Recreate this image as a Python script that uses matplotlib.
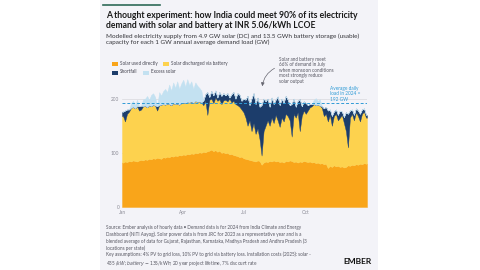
#!/usr/bin/env python3

import matplotlib
matplotlib.use("Agg")
import matplotlib.pyplot as plt
from matplotlib.patches import Rectangle, FancyArrowPatch
import numpy as np

# 3-day bins through 2024 (122 bins = 366 days)
BIN_DAYS = 3

# Level: solar used directly
DIRECT = [
    82, 84, 83, 85, 84, 86, 85, 84, 86, 87, 86,
    88, 87, 89, 88, 90, 89, 91, 90, 89, 92,
    91, 93, 92, 94, 93, 95, 94, 96, 95, 97,
    96, 98, 97, 99, 98, 100, 99, 101, 100, 102,
    101, 103, 104, 106, 103, 105, 102, 104, 100, 101,
    99, 100, 97, 98, 96, 95, 94, 92, 93, 90,
    89, 88, 87, 86, 85, 84, 86, 85, 78, 82, 84,
    83, 85, 84, 86, 84, 85, 83, 84, 82, 85,
    84, 86, 85, 83, 84, 82, 84, 83, 85, 84,
    83, 84, 82, 83, 81, 82, 80, 81, 79, 80,
    72, 76, 74, 77, 75, 76, 74, 75, 73, 74,
    77, 76, 78, 77, 79, 78, 80, 79, 81, 80,
]

# Level: top of solar supply (direct + via battery)
SUPPLIED = [
    168, 158, 172, 176, 183, 185, 182, 186, 178, 180, 186,
    187, 184, 188, 186, 189, 187, 178, 188, 189, 190,
    189, 191, 190, 188, 192, 190, 191, 189, 192, 193,
    192, 194, 193, 195, 192, 196, 194, 195, 193, 188,
    196, 170, 198, 200, 192, 202, 196, 199, 190, 197,
    198, 195, 200, 193, 196, 190, 188, 185, 180, 175,
    165, 150, 160, 140, 155, 135, 145, 125, 95, 140, 150,
    160, 150, 165, 155, 170, 160, 148, 165, 158, 172,
    168, 160, 130, 172, 165, 175, 140, 168, 178, 172,
    178, 184, 186, 190, 188, 189, 187, 183, 168, 172,
    158, 170, 150, 168, 172, 160, 165, 170, 155, 140,
    110, 165, 172, 160, 175, 168, 158, 172, 176, 165,
]

# Daily demand level
DEMAND = [
    176, 178, 180, 180, 183, 185, 182, 186, 186, 187, 186,
    187, 184, 188, 186, 189, 187, 186, 188, 189, 190,
    189, 191, 190, 188, 192, 190, 191, 189, 192, 193,
    192, 194, 193, 195, 192, 196, 194, 195, 193, 196,
    208, 212, 203, 214, 206, 215, 202, 212, 205, 210,
    206, 210, 202, 208, 212, 200, 210, 207, 196, 200,
    198, 205, 188, 200, 210, 190, 202, 185, 188, 200, 195,
    200, 185, 202, 190, 198, 204, 188, 200, 192, 205,
    198, 188, 190, 200, 185, 196, 199, 186, 195, 192,
    188, 190, 190, 190, 188, 189, 187, 186, 182, 185,
    178, 180, 168, 176, 180, 170, 178, 176, 166, 175,
    172, 178, 180, 170, 182, 178, 172, 180, 182, 170,
]

# Excess solar above demand
EXCESS = [
    0, 0, 0, 0, 9, 11, 6, 12, 0, 0, 13,
    13, 21, 10, 21, 21, 16, 0, 24, 17, 24,
    29, 21, 36, 27, 38, 30, 41, 29, 36, 42,
    30, 42, 32, 37, 26, 34, 30, 25, 22, 0,
    0, 0, 0, 0, 0, 0, 0, 0, 0, 0,
    0, 0, 0, 0, 0, 0, 0, 0, 0, 0,
    0, 0, 0, 0, 0, 0, 0, 0, 0, 0, 0,
    0, 0, 0, 0, 0, 0, 0, 0, 0, 0,
    0, 0, 0, 0, 0, 0, 0, 0, 0, 0,
    0, 0, 0, 8, 13, 7, 12, 0, 0, 0,
    0, 0, 0, 0, 0, 0, 0, 0, 0, 0,
    0, 0, 0, 0, 0, 0, 0, 0, 0, 0,
]

AVG_LOAD = 192
MONTH_TICKS = [0, 91, 182, 274]
MONTH_LABELS = ["Jan", "Apr", "Jul", "Oct"]
Y_TICKS = [0, 100, 200]

C_DIRECT = "#f9a51a"
C_BATTERY = "#fdd24e"
C_SHORT = "#1c3d6b"
C_EXCESS = "#c3e1f1"
C_BLUE = "#2f9bd6"
CARD = "#f3f3f8"
FONT = "Lato"


def main():
    direct = np.array(DIRECT, dtype=float)
    battery = np.array(SUPPLIED) - direct
    shortfall = np.array(DEMAND) - np.array(SUPPLIED)
    excess = np.array(EXCESS, dtype=float)
    # bin centres, with the year's two ends added so the areas fill the axis
    x = np.arange(len(DIRECT)) * BIN_DAYS + BIN_DAYS / 2
    x = np.concatenate([[0], x, [366]])
    series = [np.concatenate([[s[0]], s, [s[-1]]]) for s in (direct, battery, shortfall, excess)]

    plt.rcParams["font.family"] = [FONT, "DejaVu Sans"]
    fig = plt.figure(figsize=(4.8, 2.7), dpi=100, facecolor="white")
    fig.patches.append(Rectangle((100 / 480, 0), 278 / 480, 1, transform=fig.transFigure,
                                 facecolor=CARD, edgecolor="none", zorder=-10))
    fig.add_artist(plt.Line2D([103 / 480, 160 / 480], [1 - 5 / 270, 1 - 5 / 270],
                              color="#2d6a58", linewidth=1.2))

    ax = fig.add_axes([122 / 480, 1 - 207 / 270, 245 / 480, 130 / 270])
    ax.set_facecolor(CARD)
    ax.stackplot(x, *series, colors=[C_DIRECT, C_BATTERY, C_SHORT, C_EXCESS],
                 linewidth=0.3, edgecolor="face")

    ax.axhline(AVG_LOAD, color=C_BLUE, linestyle=(0, (3, 2)), linewidth=0.7)
    ax.set_xlim(0, 366)
    ax.set_ylim(0, 240)
    ax.set_yticks(Y_TICKS)
    ax.set_xticks(MONTH_TICKS)
    ax.set_xticklabels(MONTH_LABELS)
    ax.tick_params(labelsize=3.4, colors="#8a8a95", length=0, pad=2)
    ax.grid(axis="y", color="#d8d8de", linewidth=0.5)
    ax.set_axisbelow(True)
    for s in ax.spines.values():
        s.set_visible(False)

    # annotations
    fig.text(330 / 480, 1 - 86 / 270, "Average daily\nload in 2024 =\n192 GW",
             color=C_BLUE, fontsize=3.4, va="top", linespacing=1.1)
    fig.text(279 / 480, 1 - 57 / 270,
             "Solar and battery meet\n66% of demand in July\nwhen monsoon conditions\n"
             "most strongly reduce\nsolar output",
             color="#555560", fontsize=3.3, va="top", linespacing=1.1)
    arrow = FancyArrowPatch((277 / 480, 1 - 67 / 270), (262 / 480, 1 - 89 / 270),
                            transform=fig.transFigure, connectionstyle="arc3,rad=0.3",
                            arrowstyle="-|>,head_length=2,head_width=1",
                            color="#666670", linewidth=0.5)
    fig.add_artist(arrow)

    # titles
    fig.text(106 / 480, 1 - 11 / 270,
             "A thought experiment: how India could meet 90% of its electricity\n"
             "demand with solar and battery at INR 5.06/kWh LCOE",
             fontsize=6.2, fontweight="bold", color="#1a1a1a", va="top", linespacing=1.15)
    fig.text(106 / 480, 1 - 33 / 270,
             "Modelled electricity supply from 4.9 GW solar (DC) and 13.5 GWh battery storage (usable)\n"
             "capacity for each 1 GW annual average demand load (GW)",
             fontsize=4.6, color="#333338", va="top", linespacing=1.25)

    # legend
    items = [
        (112, 64, C_DIRECT, "Solar used directly"),
        (163, 64, C_BATTERY, "Solar discharged via battery"),
        (112, 72, C_SHORT, "Shortfall"),
        (143, 72, C_EXCESS, "Excess solar"),
    ]
    for px, py, col, label in items:
        fig.patches.append(Rectangle((px / 480, 1 - (py + 2.5) / 270), 6 / 480, 4 / 270,
                                     transform=fig.transFigure, facecolor=col, edgecolor="none"))
        fig.text((px + 8) / 480, 1 - py / 270, label, fontsize=3.3, color="#444450", va="center")

    # footer
    fig.text(106 / 480, 1 - 225 / 270,
             "Source: Ember analysis of hourly data \u2022 Demand data is for 2024 from India Climate and Energy\n"
             "Dashboard (NITI Aayog). Solar power data is from JRC for 2023 as a representative year and is a\n"
             "blended average of data for Gujarat, Rajasthan, Karnataka, Madhya Pradesh and Andhra Pradesh (3\n"
             "locations per state)\n"
             "Key assumptions: 4% PV to grid loss, 10% PV to grid via battery loss. Installation costs (2025): solar -\n"
             "435 $/kW; battery - 135 $/kWh; 20 year project lifetime, 7% discount rate",
             fontsize=3.35, color="#555560", va="top", linespacing=1.3)
    fig.text(372 / 480, 1 - 262 / 270, "EMBER", fontsize=6, fontweight="bold",
             color="#111111", ha="right", va="center")

    fig.savefig("out.png", dpi=100, facecolor="white")
    plt.close(fig)


if __name__ == "__main__":
    main()
